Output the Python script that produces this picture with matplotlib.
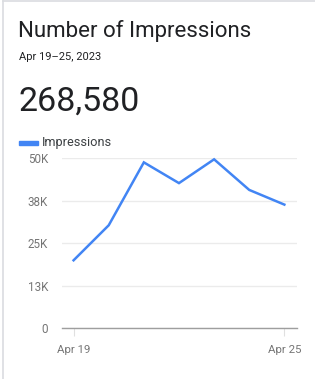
import matplotlib
matplotlib.use("Agg")
import matplotlib.pyplot as plt
from matplotlib.patches import Rectangle
from matplotlib.lines import Line2D

dates = ["Apr 19", "Apr 20", "Apr 21", "Apr 22", "Apr 23", "Apr 24", "Apr 25"]
impressions = [20000, 30300, 48800, 42700, 49700, 40700, 36380]
ytick_values = [0, 12500, 25000, 37500, 50000]
ytick_labels = ["0", "13K", "25K", "38K", "50K"]
xtick_labels = ["Apr 19", "Apr 25"]

title = "Number of Impressions"
subtitle = "Apr 19\u201325, 2023"
total = "268,580"
series_name = "Impressions"

W, H = 315, 379
DPI = 100
plt.rcParams['font.family'] = ['Roboto', 'DejaVu Sans']
fig = plt.figure(figsize=(W / DPI, H / DPI), dpi=DPI)
fig.patch.set_facecolor("white")

def fx(px):
    return px / W

def fy(py):
    return 1 - py / H

# card border (top and left)
fig.add_artist(Line2D([fx(2.5), 1], [fy(0.5), fy(0.5)], color="#dadce0", lw=1.2, transform=fig.transFigure))
fig.add_artist(Line2D([fx(2.5), fx(2.5)], [fy(0.5), 0], color="#dadce0", lw=1.2, transform=fig.transFigure))

fig.text(fx(18.5), fy(37), title, fontsize=16, color="#202124", ha="left", va="baseline")
fig.text(fx(19), fy(60), subtitle, fontsize=8, color="#202124", ha="left", va="baseline")
fig.text(fx(18), fy(110.5), total, fontsize=24.5, color="#202124", ha="left", va="baseline")

# legend
fig.add_artist(Rectangle((fx(19), fy(144.5)), fx(19), 3.5 / H, color="#4285f4", transform=fig.transFigure))
fig.text(fx(41.5), fy(146), series_name, fontsize=9.2, color="#3c4043", ha="left", va="baseline")

# axes
x0, x1 = 62, 297
y_top, y_bot = 158.3, 328.3
ax = fig.add_axes([fx(x0), fy(y_bot), (x1 - x0) / W, (y_bot - y_top) / H])
xs = list(range(len(dates)))
ax.plot(xs, impressions, color="#4285f4", lw=1.8, clip_on=False, solid_joinstyle="miter")
ax.set_xlim(-0.33, 6.36)
ax.set_ylim(0, 50000)
ax.set_yticks(ytick_values)
ax.set_yticklabels(ytick_labels)
ax.set_xticks([0, 6])
ax.set_xticklabels(xtick_labels)
for s in ["top", "right", "left"]:
    ax.spines[s].set_visible(False)
ax.spines["bottom"].set_color("#9e9e9e")
ax.spines["bottom"].set_linewidth(1)
ax.grid(axis="y", color="#ebebeb", lw=1)
ax.set_axisbelow(True)
ax.tick_params(axis="y", length=0, pad=10, labelsize=8.4, labelcolor="#757575")
ax.tick_params(axis="x", length=6, width=0.8, color="#e0e0e0", pad=6, labelsize=8.2, labelcolor="#757575")
ax.set_facecolor("none")

fig.savefig("out.png", dpi=DPI)
